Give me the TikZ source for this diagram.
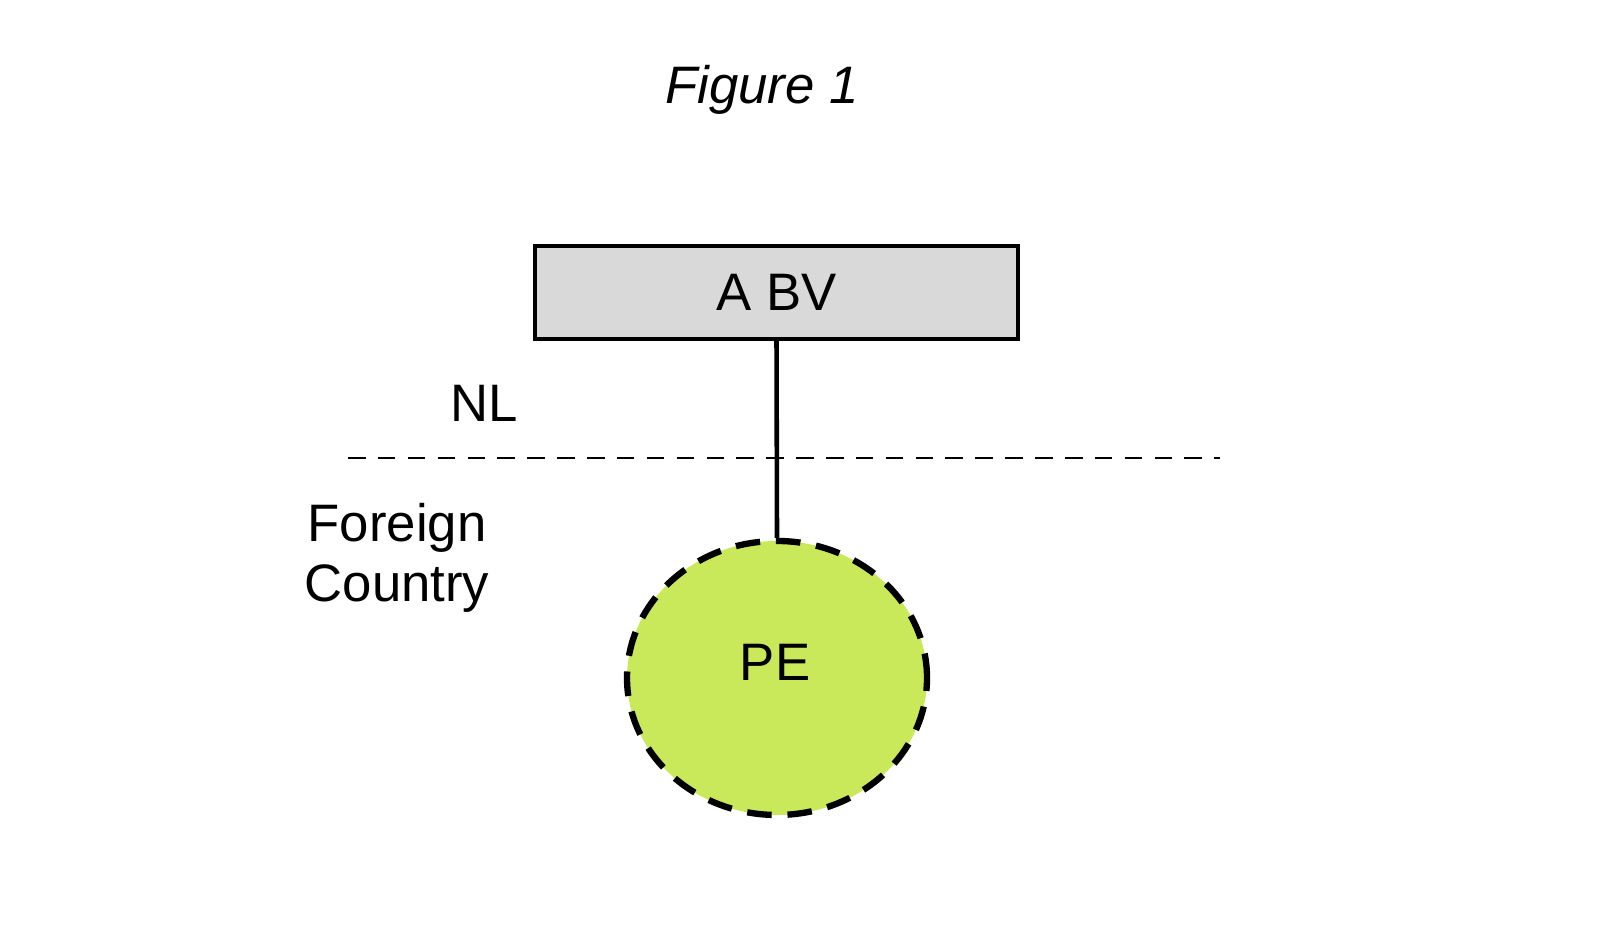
\documentclass[tikz,border=0pt]{standalone}
\usepackage{fontspec}
\setmainfont{Liberation Sans}
\usetikzlibrary{shapes.geometric}
\definecolor{boxgray}{HTML}{D9D9D9}
\definecolor{pegreen}{HTML}{C9E85A}
\begin{document}
\begin{tikzpicture}[x=1cm,y=1cm,
  lbl/.style={font=\fontsize{15}{18}\selectfont, inner sep=0pt},
]
\useasboundingbox (0,0) rectangle (16,9.25);
\node[lbl, font=\fontsize{15}{18}\selectfont\itshape] (title) at (7.62,8.35) {Figure 1};
\node[draw, line width=0.9pt, fill=boxgray, minimum width=4.83cm, minimum height=0.93cm, lbl] (abv) at (7.765,6.325) {A BV};
\node[ellipse, draw, line width=1.8pt, dash pattern=on 7pt off 4.5pt, fill=pegreen, minimum width=3.0cm, minimum height=2.74cm, lbl] (pe) at (7.77,2.47) {};
\node[lbl] (petext) at (7.75,2.63) {PE};
\draw[line width=1.3pt] (abv.south) -- (pe.north);
\coordinate (dl) at (3.48,4.67);
\coordinate (dr) at (12.2,4.67);
\draw[line width=0.8pt, dash pattern=on 5pt off 3.5pt] (dl) -- (dr);
\node[lbl] (nl) at (4.84,5.22) {NL};
\node[lbl, align=center] (fc) at (3.97,3.67) {Foreign\\[-1pt]Country};
\end{tikzpicture}
\end{document}
